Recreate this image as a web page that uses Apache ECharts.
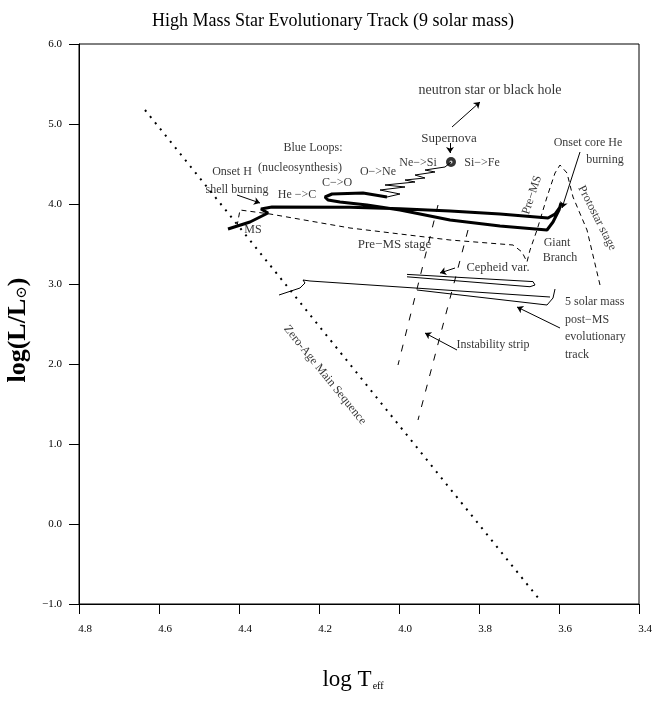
<!DOCTYPE html>
<html>
<head>
<meta charset="utf-8">
<script src="https://cdn.jsdelivr.net/npm/echarts@6/dist/echarts.min.js"></script>
<style>
  html, body { margin: 0; padding: 0; background: #fff; }
  #main { width: 666px; height: 701px; }
</style>
</head>
<body>
<div id="main"></div>
<script>
// log Teff / log(L/Lsun) pairs
var zams = [[4.635, 5.175], [3.648, -0.95]];
var track9 = [[4.4275, 3.6875], [4.3725, 3.775], [4.3275, 3.8875], [4.345, 3.9375], [4.3175, 3.9625],
  [4.1225, 3.96], [3.9975, 3.94], [3.8725, 3.9125], [3.7475, 3.875], [3.6275, 3.825], [3.61, 3.875],
  [3.5975, 3.9625], [3.595, 4.0125], [3.6, 3.925], [3.615, 3.775], [3.63, 3.675], [3.7475, 3.725],
  [3.8725, 3.8], [3.9975, 3.925], [4.08, 3.9875], [4.1475, 4.025], [4.1775, 4.05], [4.185, 4.0875],
  [4.1675, 4.125], [4.09, 4.1375], [4.03, 4.0875]];
var spiral9 = [[4.03, 4.0875], [3.9975, 4.125], [4.0475, 4.175], [3.985, 4.2125], [4.035, 4.2375],
  [3.96, 4.275], [3.985, 4.3], [3.935, 4.325], [3.96, 4.3625], [3.91, 4.4], [3.935, 4.425],
  [3.885, 4.4625], [3.87, 4.525]];
var preMS9 = [[3.4975, 2.9875], [3.53, 3.675], [3.565, 4.0875], [3.58, 4.3875], [3.5975, 4.4875],
  [3.61, 4.3875], [3.63, 4.0875], [3.655, 3.675], [3.6725, 3.425], [3.68, 3.275], [3.6925, 3.4],
  [3.715, 3.4875], [3.8725, 3.55], [4.1225, 3.7], [4.3225, 3.875], [4.3975, 3.925], [4.405, 3.725]];
var stripLeft = [[3.9025, 3.9875], [4.0025, 1.9875]];
var stripRight = [[3.8275, 3.675], [3.9525, 1.3]];
var track5 = [[4.3, 2.8625], [4.2475, 2.95], [4.235, 3.0125], [4.24, 3.05], [4.2225, 3.0375],
  [3.9225, 2.9375], [3.6225, 2.8375]];
var track5back = [[3.61, 2.9375], [3.615, 2.825], [3.63, 2.7375], [3.955, 2.925]];
var cepheidLoop = [[3.98, 3.12], [3.665, 3.03], [3.66, 2.9875], [3.6725, 2.966], [3.98, 3.09]];
var supernova = [[3.87, 4.525]];

var arrows = [
  [[3.8675, 4.9625], [3.7975, 5.275]],
  [[3.8725, 4.7625], [3.8725, 4.6375]],
  [[3.5475, 4.65], [3.5925, 3.95]],
  [[4.405, 4.1125], [4.3475, 4.0125]],
  [[3.86, 3.2], [3.8975, 3.1375]],
  [[3.5975, 2.45], [3.705, 2.7125]],
  [[3.855, 2.175], [3.935, 2.3875]]
];

var noteText = ['neutron star or black hole', 'Supernova', 'Si\u2212>Fe', 'Ne\u2212>Si', 'O\u2212>Ne', 'C\u2212>O',
  'He \u2212>C', 'Blue Loops:', '(nucleosynthesis)', 'Onset H', 'shell burning', 'MS', 'Pre\u2212MS stage',
  'Onset core He', 'burning', 'Giant', 'Branch', 'Cepheid var.', 'Instability strip'];
var notePos = [[3.7725, 5.425], [3.875, 4.8125], [3.7925, 4.5125], [3.9525, 4.5125], [4.0525, 4.4],
  [4.155, 4.2625], [4.255, 4.1125], [4.215, 4.7], [4.2475, 4.45], [4.4175, 4.4], [4.405, 4.175],
  [4.365, 3.675], [4.0113, 3.4875], [3.5275, 4.7625], [3.485, 4.55], [3.605, 3.5125], [3.5975, 3.325],
  [3.7525, 3.2], [3.765, 2.2375]];
var noteSize = [14, 13, 12, 12, 12, 12, 12, 12, 12, 12, 12, 12, 13, 12, 12, 12, 12, 12.5, 12];
var sideText = ['5 solar mass', 'post\u2212MS', 'evolutionary', 'track'];
var sidePos = [[3.585, 2.775], [3.585, 2.55], [3.585, 2.3375], [3.585, 2.1125]];
var tiltText = ['Pre\u2212MS', 'Protostar stage', 'Zero-Age Main Sequence'];
var tiltPos = [[3.6675, 4.1125], [3.505, 3.825], [4.185, 1.8625]];
var tiltDeg = [72, -63, -51];

var serif = '"Liberation Serif", "DejaVu Serif", serif';
var myChart = echarts.init(document.getElementById('main'));

function lineSeries(data, width, type) {
  return {
    type: 'line', data: data, showSymbol: false, silent: true, animation: false,
    lineStyle: { color: '#000', width: width, type: type || 'solid' }
  };
}

var series = [
  lineSeries(zams, 2, [2, 6]),
  lineSeries(preMS9, 1, [5, 4]),
  lineSeries(stripLeft, 1, [7, 9]),
  lineSeries(stripRight, 1, [7, 9]),
  lineSeries(track5, 1),
  lineSeries(track5back, 1),
  lineSeries(cepheidLoop, 1),
  lineSeries(spiral9, 1),
  lineSeries(track9, 3),
  {
    type: 'lines', coordinateSystem: 'cartesian2d', animation: false, silent: true,
    symbol: ['none', 'arrow'], symbolSize: 6,
    lineStyle: { color: '#000', width: 1, opacity: 1 },
    data: arrows.map(function (a) { return { coords: a }; })
  },
  {
    type: 'scatter', data: supernova, symbolSize: 10, animation: false, silent: true,
    itemStyle: { color: '#000' }
  },
  {
    type: 'scatter', data: supernova, symbolSize: 3, animation: false, silent: true,
    itemStyle: { color: '#fff' }
  },
  {
    type: 'scatter', symbolSize: 0, animation: false, silent: true,
    data: notePos.map(function (p, i) {
      return { value: p, label: { formatter: noteText[i], fontSize: noteSize[i] } };
    }),
    label: { show: true, position: 'inside', color: '#000', fontFamily: serif, fontSize: 12 }
  },
  {
    type: 'scatter', symbolSize: 0, animation: false, silent: true,
    data: sidePos.map(function (p, i) { return { value: p, label: { formatter: sideText[i] } }; }),
    label: { show: true, position: 'right', distance: 0, align: 'left', color: '#000', fontFamily: serif, fontSize: 12 }
  },
  {
    type: 'scatter', symbolSize: 0, animation: false, silent: true,
    data: tiltPos.map(function (p, i) {
      return { value: p, label: { formatter: tiltText[i], rotate: tiltDeg[i] } };
    }),
    label: { show: true, position: 'inside', color: '#000', fontFamily: serif, fontSize: 12 }
  }
];

var option = {
  backgroundColor: '#fff',
  animation: false,
  title: {
    text: 'High Mass Star Evolutionary Track (9 solar mass)',
    left: 'center', top: 7,
    textStyle: { fontFamily: serif, fontWeight: 'normal', fontSize: 18, color: '#000' }
  },
  grid: {
    left: 79, right: 27, top: 44, bottom: 97, containLabel: false, outerBoundsMode: 'none',
    show: true, borderColor: '#000', borderWidth: 1, backgroundColor: 'transparent'
  },
  xAxis: {
    type: 'value', min: 3.4, max: 4.8, interval: 0.2, inverse: true,
    axisLine: { onZero: false, lineStyle: { color: '#000', width: 1 } },
    axisTick: { inside: false, length: 10, lineStyle: { color: '#000' } },
    splitLine: { show: false },
    axisLabel: { color: '#000', fontFamily: serif, fontSize: 11, margin: 20, padding: [0, 0, 0, 12],
      formatter: function (v) { return v.toFixed(1); } },
    name: '{a|log T}{s|eff}', nameLocation: 'middle', nameGap: 64,
    nameTextStyle: { padding: [0, 12, 0, 0], rich: {
      a: { fontFamily: serif, fontSize: 23, color: '#000' },
      s: { fontFamily: serif, fontSize: 10, color: '#000', verticalAlign: 'bottom', padding: [8, 0, 0, 1] }
    } }
  },
  yAxis: {
    type: 'value', min: -1, max: 6, interval: 1,
    axisLine: { onZero: false, lineStyle: { color: '#000', width: 1 } },
    axisTick: { inside: false, length: 10, lineStyle: { color: '#000' } },
    splitLine: { show: false },
    axisLabel: { color: '#000', fontFamily: serif, fontSize: 11, margin: 17,
      formatter: function (v) { return v < 0 ? '\u2212' + Math.abs(v).toFixed(1) : v.toFixed(1); } },
    name: '{a|log(L/L}{s|\u2299}{a|)}', nameLocation: 'middle', nameGap: 34, nameRotate: 90,
    nameTextStyle: { padding: [0, 12, 0, 0], rich: {
      a: { fontFamily: serif, fontSize: 26, fontWeight: 'bold', color: '#000' },
      s: { fontFamily: serif, fontSize: 15, color: '#000', padding: [8, 0, 0, 0] }
    } }
  },
  series: series
};
myChart.setOption(option);
</script>
</body>
</html>
